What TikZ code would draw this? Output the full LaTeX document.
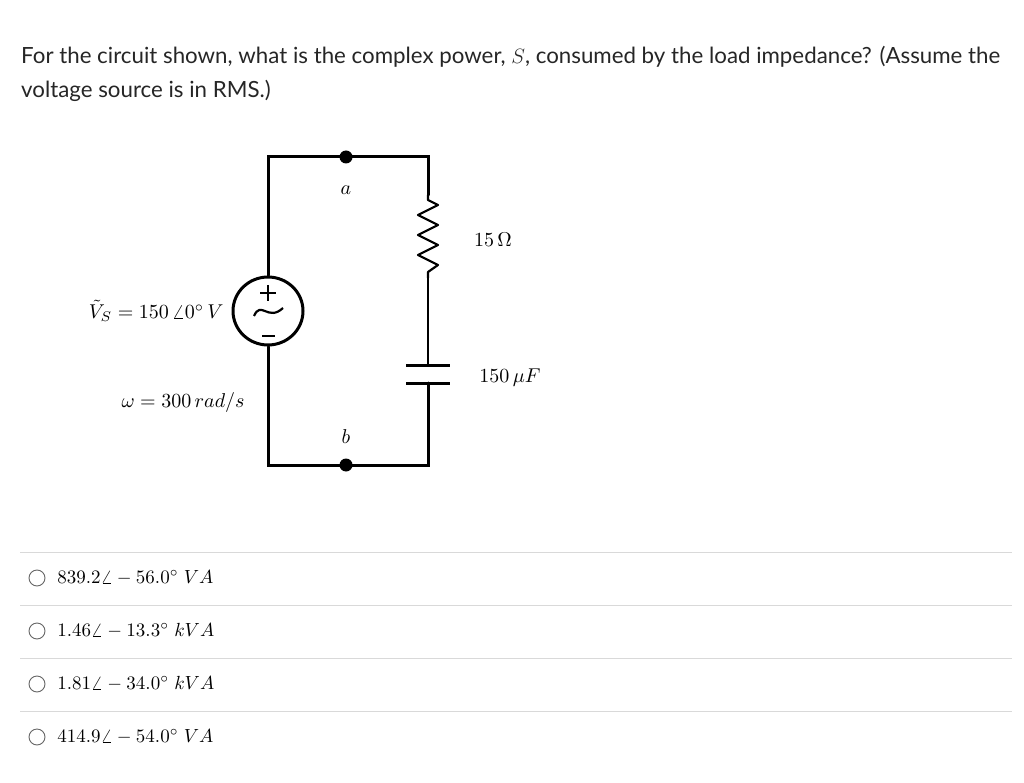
\documentclass[tikz,border=0pt]{standalone}
\usepackage{fontspec}
\setmainfont{Lato}
\usepackage{amsmath}
\usetikzlibrary{shapes.geometric}
\begin{document}
\begin{tikzpicture}[x=1pt,y=-1pt,
  wire/.style={line width=3pt,line cap=round},
  sep/.style={draw=black!15,line width=0.8pt},
  radio/.style={circle,draw=black!60,line width=0.9pt,minimum size=16pt,inner sep=0pt},
  opt/.style={anchor=west,scale=1.9,transform shape,inner sep=0pt},
  lbl/.style={scale=2.0,transform shape,inner sep=0pt}]
\useasboundingbox (0,0) rectangle (1024,783);
\node[anchor=west,inner sep=0pt,font=\fontsize{22.3}{26}\selectfont,text=black!85] (q1) at (21,57) {For the circuit shown, what is the complex power, $S$, consumed by the load impedance? (Assume the};
\node[anchor=west,inner sep=0pt,font=\fontsize{22.3}{26}\selectfont,text=black!85] (q2) at (21,91) {voltage source is in RMS.)};
% circuit
\coordinate (tl) at (268,157); \coordinate (tr) at (428,157);
\coordinate (bl) at (268,465); \coordinate (br) at (428,465);
\node[draw,line width=3pt,ellipse,minimum width=70pt,minimum height=68pt,inner sep=0pt] (src) at (268,311) {};
\coordinate (r1) at (428,195); \coordinate (r2) at (428,278);
\coordinate (c1) at (428,365); \coordinate (c2) at (428,383);
\draw[wire] (src.north) -- (tl) -- (tr) -- (r1);
\draw[wire] (src.south) -- (bl) -- (br) -- (c2);
\draw[line width=2.2pt,line join=round] (r1) -- (428,200) -- (438,205) -- (418,215) -- (438,225) -- (418,235) -- (438,245) -- (418,255) -- (438,265) -- (428,272) -- (r2);
\draw[line width=1.5pt] (r2) -- (c1);
\draw[wire,line cap=butt] (406,365) -- (450,365);
\draw[wire,line cap=butt] (406,383) -- (450,383);
\fill (346,157) circle (6.5pt) node (a) {};
\fill (346,465) circle (6.5pt) node (b) {};
% source symbols
\draw[line width=2.4pt] (268,285) -- (268,301) (260,293) -- (276,293);
\draw[line width=2.4pt] (262,336) -- (275,336);
\draw[line width=2.2pt] (254,316) .. controls (261,300) and (268,322) .. (283,308);
% labels
\node[lbl] at (346,190) {$a$};
\node[lbl] at (346,437) {$b$};
\node[lbl] at (493,240) {$15\,\Omega$};
\node[lbl] at (510,378) {$150\,\mu F$};
\node[lbl,anchor=east] at (224,311) {$\tilde V_S = 150\,\angle 0^\circ\, V$};
\node[lbl,anchor=east] at (245,402) {$\omega = 300\,rad/s$};
% options
\foreach \y in {552,605,658,711} \draw[sep] (20,\y) -- (1012,\y);
\foreach \y/\t in {578/{$839.2\angle-56.0^\circ\;VA$},631/{$1.46\angle-13.3^\circ\;kVA$},684/{$1.81\angle-34.0^\circ\;kVA$},737/{$414.9\angle-54.0^\circ\;VA$}}{
  \node[radio] at (37,\y) {};
  \node[opt] at (57,\y) {\t};
}
\end{tikzpicture}
\end{document}
